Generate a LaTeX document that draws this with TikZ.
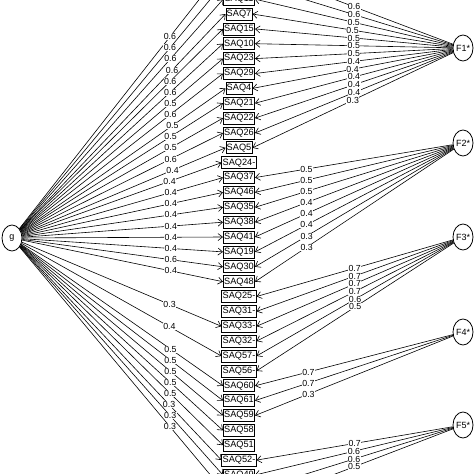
\documentclass[tikz,border=0pt]{standalone}
\usepackage{fontspec}
\setmainfont{Liberation Sans}
\usetikzlibrary{arrows.meta}
\usetikzlibrary{shapes.geometric}

\tikzset{
  item/.style={draw, rectangle, line width=0.8pt, inner xsep=0.8pt, inner ysep=0pt, minimum height=12pt, font=\fontsize{9.2}{10}\selectfont},
  hidden/.style={rectangle, inner sep=0pt, minimum width=32pt, minimum height=12pt},
  latent/.style={draw, ellipse, line width=0.8pt, inner sep=0pt, minimum width=20pt, minimum height=26pt, font=\fontsize{9}{10}\selectfont},
  ld/.style={-{Straight Barb[length=4.5pt,width=7pt]}, line width=0.6pt, black},
  lab/.style={fill=white, inner sep=0.4pt, font=\fontsize{8.8}{9}\selectfont}
}

\begin{document}
\begin{tikzpicture}[x=1pt, y=-1pt]
				\useasboundingbox (0,0) rectangle (474,474);
				\clip (0,0) rectangle (474,474);
				% latent variables
				\node[latent] (g) at (12,238) {g};
				\node[latent] (F1) at (463,48) {F1*};
				\node[latent] (F2) at (463,143) {F2*};
				\node[latent] (F3) at (463,237) {F3*};
				\node[latent] (F4) at (463,332) {F4*};
				\node[latent] (F5) at (463,425) {F5*};
				% items
				\node[hidden] (top2) at (239,-30.6) {};
				\node[hidden] (top1) at (239,-15.7) {};
				\node[item] (saq11) at (239,-0.9) {SAQ11};
				\node[item] (saq7) at (239,14.0) {SAQ7};
				\node[item] (saq15) at (239,28.9) {SAQ15};
				\node[item] (saq10) at (239,43.7) {SAQ10};
				\node[item] (saq23) at (239,58.6) {SAQ23};
				\node[item] (saq29) at (239,73.5) {SAQ29};
				\node[item] (saq4) at (239,88.4) {SAQ4};
				\node[item] (saq21) at (239,103.2) {SAQ21};
				\node[item] (saq22) at (239,118.1) {SAQ22};
				\node[item] (saq26) at (239,133.0) {SAQ26};
				\node[item] (saq5) at (239,147.8) {SAQ5};
				\node[item] (saq24) at (239,162.7) {SAQ24-};
				\node[item] (saq37) at (239,177.6) {SAQ37};
				\node[item] (saq46) at (239,192.4) {SAQ46};
				\node[item] (saq35) at (239,207.3) {SAQ35};
				\node[item] (saq38) at (239,222.2) {SAQ38};
				\node[item] (saq41) at (239,237.0) {SAQ41};
				\node[item] (saq19) at (239,251.9) {SAQ19};
				\node[item] (saq30) at (239,266.8) {SAQ30};
				\node[item] (saq48) at (239,281.7) {SAQ48};
				\node[item] (saq25) at (239,296.5) {SAQ25-};
				\node[item] (saq31) at (239,311.4) {SAQ31-};
				\node[item] (saq33) at (239,326.3) {SAQ33-};
				\node[item] (saq32) at (239,341.1) {SAQ32-};
				\node[item] (saq57) at (239,356.0) {SAQ57-};
				\node[item] (saq56) at (239,370.9) {SAQ56-};
				\node[item] (saq60) at (239,385.8) {SAQ60};
				\node[item] (saq61) at (239,400.6) {SAQ61};
				\node[item] (saq59) at (239,415.5) {SAQ59};
				\node[item] (saq58) at (239,430.4) {SAQ58};
				\node[item] (saq51) at (239,445.2) {SAQ51};
				\node[item] (saq52) at (239,460.1) {SAQ52-};
				\node[item] (saq49) at (239,475.0) {SAQ49};
				\node[hidden] (bot1) at (239,489.8) {};
				\node[hidden] (bot2) at (239,504.7) {};
				% general factor
				\foreach \t/\v in {top2/0.6, top1/0.6, saq11/0.6, saq7/0.6, saq15/0.6, saq10/0.6, saq23/0.5, saq29/0.6, saq4/0.5, saq21/0.5, saq22/0.5, saq26/0.6, saq5/0.4, saq24/0.4, saq37/0.4, saq46/0.4, saq35/0.4, saq38/0.4, saq41/0.4, saq19/0.4, saq30/0.6, saq48/0.4, saq33/0.3, saq57/0.4, saq60/0.5, saq61/0.5, saq59/0.5, saq58/0.5, saq51/0.5, saq52/0.3, saq49/0.3, bot1/0.3}
					\draw[ld] (g) -- (\t.west) node[lab, pos=0.74] {\v};
				% group factors
				\foreach \t/\v in {top2/0.6, top1/0.6, saq11/0.5, saq7/0.5, saq15/0.5, saq10/0.5, saq23/0.5, saq29/0.4, saq4/0.4, saq21/0.4, saq22/0.4, saq26/0.4, saq5/0.3}
					\draw[ld] (F1) -- (\t.east) node[lab, pos=0.5] {\v};
				\foreach \t/\v in {saq37/0.5, saq46/0.5, saq35/0.5, saq38/0.4, saq41/0.4, saq19/0.4, saq30/0.3, saq48/0.3}
					\draw[ld] (F2) -- (\t.east) node[lab, pos=0.74] {\v};
				\foreach \t/\v in {saq25/0.7, saq31/0.7, saq33/0.7, saq32/0.7, saq57/0.6, saq56/0.5}
					\draw[ld] (F3) -- (\t.east) node[lab, pos=0.5] {\v};
				\foreach \t/\v in {saq60/0.7, saq61/0.7, saq59/0.3}
					\draw[ld] (F4) -- (\t.east) node[lab, pos=0.73] {\v};
				\foreach \t/\v in {saq52/0.7, saq49/0.6, bot1/0.6, bot2/0.5}
					\draw[ld] (F5) -- (\t.east) node[lab, pos=0.5] {\v};
			\end{tikzpicture}
\end{document}
